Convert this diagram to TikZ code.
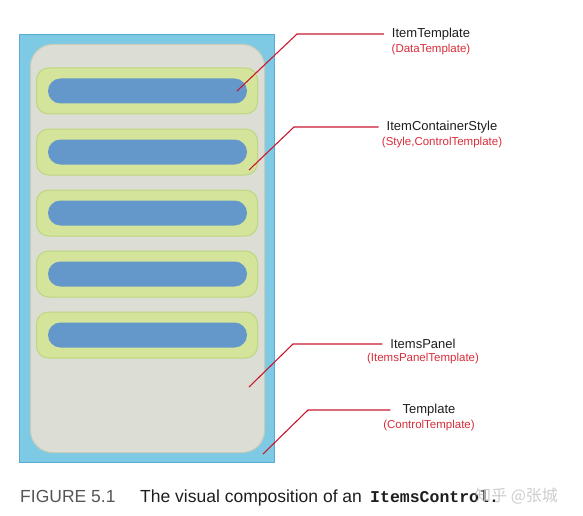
\documentclass[tikz,border=0pt]{standalone}
\usepackage{fontspec}
\setmainfont{Liberation Sans}
\newfontfamily\codefont{Liberation Mono}
\newfontfamily\cjkfont{Noto Sans CJK SC}
\usetikzlibrary{positioning}

\definecolor{ctrlblue}{RGB}{126,202,228}
\definecolor{ctrledge}{RGB}{88,172,210}
\definecolor{panelgray}{RGB}{220,222,213}
\definecolor{paneledge}{RGB}{200,204,182}
\definecolor{contgreen}{RGB}{212,228,154}
\definecolor{contedge}{RGB}{190,214,128}
\definecolor{itemblue}{RGB}{100,151,202}
\definecolor{leadred}{RGB}{200,24,48}
\definecolor{subred}{RGB}{214,44,58}
\definecolor{capgray}{RGB}{85,85,85}
\definecolor{labelink}{RGB}{30,30,30}

\begin{document}
\begin{tikzpicture}[x=1pt, y=-1pt,
    ctrlbox/.style={draw=ctrledge, line width=1.6pt, fill=ctrlblue, rectangle,
      minimum width=255pt, minimum height=428pt, inner sep=0pt},
    panelbox/.style={draw=paneledge, line width=1pt, fill=panelgray, rectangle,
      rounded corners=22pt, minimum width=234pt, minimum height=408pt, inner sep=0pt},
    contbox/.style={draw=contedge, line width=1pt, fill=contgreen, rectangle,
      rounded corners=12pt, minimum width=221pt, minimum height=46pt, inner sep=0pt},
    itembox/.style={fill=itemblue, rectangle, rounded corners=12.5pt,
      minimum width=199pt, minimum height=25pt, inner sep=0pt},
    leader/.style={draw=leadred, line width=1.1pt},
    callout/.style={font=\fontsize{13}{15}\selectfont, text=labelink, inner sep=3pt},
    subtext/.style={font=\fontsize{11.5}{13}\selectfont, text=subred, inner sep=1pt},
    caption/.style={font=\fontsize{17.5}{20}\selectfont, text=labelink, inner sep=0pt, anchor=base west}]
  \useasboundingbox (0,0) rectangle (583,516);

  % the control and its panel
  \node (control) [ctrlbox] at (147,248.5) {};
  \node (panel) [panelbox] at (147.5,248.5) {};
  \foreach \i/\y in {1/91,2/152,3/213,4/274,5/335} {
    \node (cont\i) [contbox] at (147,\y) {};
    \node (item\i) [itembox] at (147.5,\y) {};
  }

  % labels
  \node (itemtemplate) [callout] at (431,34) {ItemTemplate};
  \node (datatemplate) [subtext, below=0pt of itemtemplate] {(DataTemplate)};
  \node (containerstyle) [callout] at (442,127) {ItemContainerStyle};
  \node (stylecontrol) [subtext, below=0pt of containerstyle] {(Style,ControlTemplate)};
  \node (itemspanel) [callout] at (423,344) {ItemsPanel};
  \node (paneltemplate) [subtext, below=0pt of itemspanel] {(ItemsPanelTemplate)};
  \node (template) [callout] at (429,410) {Template};
  \node (controltemplate) [subtext, below=0pt of template] {(ControlTemplate)};

  % leader lines
  \coordinate (tipA) at (237,91);
  \coordinate (bendA) at (297,34);
  \coordinate (tipB) at (249,170);
  \coordinate (bendB) at (294,127);
  \coordinate (tipC) at (249,387);
  \coordinate (bendC) at (293,344);
  \coordinate (tipD) at (263,454);
  \coordinate (bendD) at (308,410);
  \draw[leader] (tipA) -- (bendA) -- ([xshift=-5pt]itemtemplate.west);
  \draw[leader] (tipB) -- (bendB) -- ([xshift=-5pt]containerstyle.west);
  \draw[leader] (tipC) -- (bendC) -- ([xshift=-5pt]itemspanel.west);
  \draw[leader] (tipD) -- (bendD) -- ([xshift=-9pt]template.west);

  % caption
  \node (fignum) [caption, text=capgray] at (20,502) {FIGURE 5.1};
  \node (figtext) [caption] at (140,502) {The visual composition of an};
  \node (figcode) [caption, font=\fontsize{16.5}{20}\codefont\bfseries] at (370,502) {ItemsControl.};
  \node (mark) [caption, text=black!22, opacity=0.9, font=\fontsize{16}{20}\cjkfont] at (475,501) {知乎 @张城};
\end{tikzpicture}
\end{document}
